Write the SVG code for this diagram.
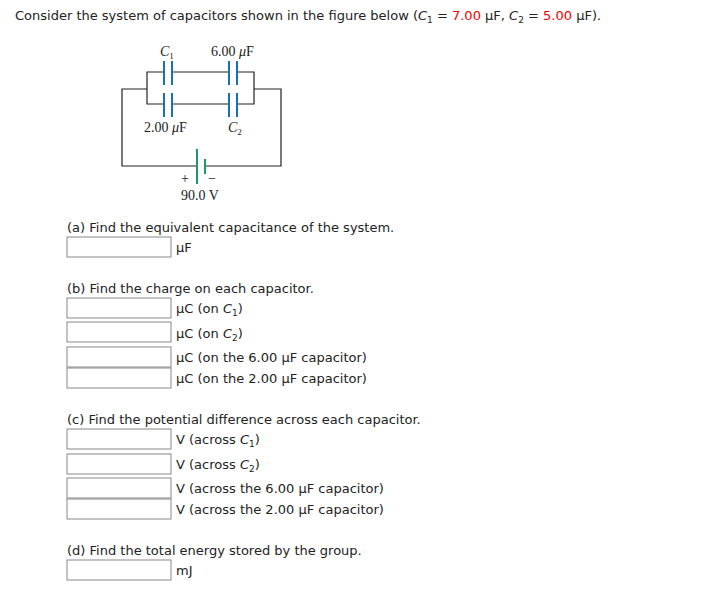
<svg xmlns="http://www.w3.org/2000/svg" width="703" height="595" viewBox="0 0 703 595">
<style>
text{font-family:"DejaVu Sans",Verdana,sans-serif;font-size:13px;fill:#222}
.s{font-family:"Liberation Serif",serif;font-size:14px;fill:#222}
.r{fill:#e00}
.w{fill:none;stroke:#222;stroke-width:1.2}
.p{stroke:#1a6fb5;stroke-width:2}
.b{stroke:#1a9a6a;stroke-width:2}
.box{fill:#fff;stroke:#888;stroke-width:1}
</style>
<rect width="703" height="595" fill="#fff"/>
<text x="15" y="20">Consider the system of capacitors shown in the figure below (<tspan font-style="italic">C</tspan><tspan font-size="9" dy="3">1</tspan><tspan dy="-3"> = </tspan><tspan class="r">7.00</tspan> μF, <tspan font-style="italic">C</tspan><tspan font-size="9" dy="3">2</tspan><tspan dy="-3"> = </tspan><tspan class="r">5.00</tspan> μF).</text>
<g id="connectors">
<path class="w" d="M164 72H147V104H164M172 72H229M237 72H254V104H237M172 104H229M147 89H122V166H197M205 166H281V89H254"/>
</g>
<g id="C1"><line class="p" x1="164" y1="61" x2="164" y2="85"/><line class="p" x1="172" y1="61" x2="172" y2="85"/><text class="s" x="160" y="56" font-style="italic">C<tspan font-size="9" dy="3" font-style="normal">1</tspan></text></g>
<g id="C6"><line class="p" x1="229" y1="61" x2="229" y2="85"/><line class="p" x1="237" y1="61" x2="237" y2="85"/><text class="s" x="211" y="56">6.00 <tspan font-style="italic">μ</tspan>F</text></g>
<g id="C2uF"><line class="p" x1="164" y1="93" x2="164" y2="117"/><line class="p" x1="172" y1="93" x2="172" y2="117"/><text class="s" x="144" y="132">2.00 <tspan font-style="italic">μ</tspan>F</text></g>
<g id="C2"><line class="p" x1="229" y1="93" x2="229" y2="117"/><line class="p" x1="237" y1="93" x2="237" y2="117"/><text class="s" x="228" y="132" font-style="italic">C<tspan font-size="9" dy="3" font-style="normal">2</tspan></text></g>
<g id="battery"><line class="b" x1="197" y1="149" x2="197" y2="184"/><line class="b" x1="205" y1="159" x2="205" y2="174"/><text class="s" x="181" y="183">+</text><text class="s" x="208" y="183">−</text><text class="s" x="181" y="200">90.0 V</text></g>
<text x="67" y="232">(a) Find the equivalent capacitance of the system.</text>
<rect class="box" x="67" y="237" width="104" height="20"/><text x="176" y="252">μF</text>
<text x="67" y="293">(b) Find the charge on each capacitor.</text>
<rect class="box" x="67" y="298" width="104" height="20"/><text x="176" y="313">μC (on <tspan font-style="italic">C</tspan><tspan font-size="9" dy="3">1</tspan><tspan dy="-3">)</tspan></text>
<rect class="box" x="67" y="322" width="104" height="20"/><text x="176" y="338">μC (on <tspan font-style="italic">C</tspan><tspan font-size="9" dy="3">2</tspan><tspan dy="-3">)</tspan></text>
<rect class="box" x="67" y="347" width="104" height="20"/><text x="176" y="362">μC (on the 6.00 μF capacitor)</text>
<rect class="box" x="67" y="368" width="104" height="20"/><text x="176" y="383">μC (on the 2.00 μF capacitor)</text>
<text x="67" y="424">(c) Find the potential difference across each capacitor.</text>
<rect class="box" x="67" y="429" width="104" height="20"/><text x="176" y="444">V (across <tspan font-style="italic">C</tspan><tspan font-size="9" dy="3">1</tspan><tspan dy="-3">)</tspan></text>
<rect class="box" x="67" y="454" width="104" height="20"/><text x="176" y="469">V (across <tspan font-style="italic">C</tspan><tspan font-size="9" dy="3">2</tspan><tspan dy="-3">)</tspan></text>
<rect class="box" x="67" y="478" width="104" height="20"/><text x="176" y="493">V (across the 6.00 μF capacitor)</text>
<rect class="box" x="67" y="499" width="104" height="20"/><text x="176" y="514">V (across the 2.00 μF capacitor)</text>
<text x="67" y="555">(d) Find the total energy stored by the group.</text>
<rect class="box" x="67" y="560" width="104" height="20"/><text x="176" y="575">mJ</text>
</svg>
